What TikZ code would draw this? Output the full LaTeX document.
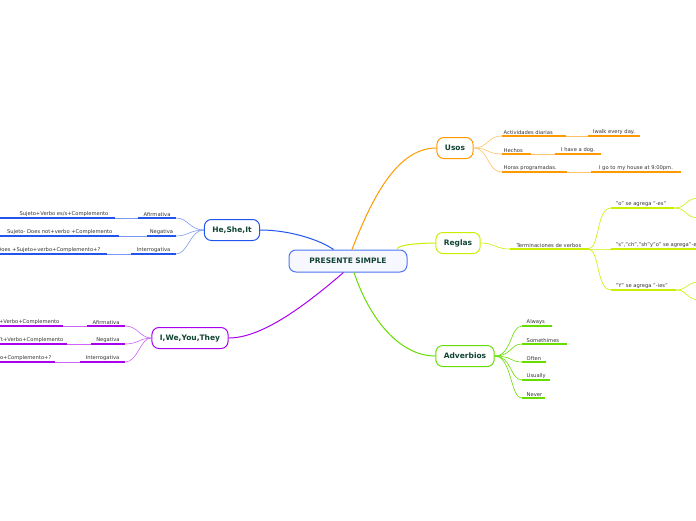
\documentclass[tikz,border=0pt]{standalone}
\usepackage{fontspec}
\setmainfont{DejaVu Sans}
\usetikzlibrary{calc}
\definecolor{cor}{HTML}{FF9900}
\definecolor{cyl}{HTML}{CCEE00}
\definecolor{cgr}{HTML}{66DD00}
\definecolor{cbl}{HTML}{2255EE}
\definecolor{cpu}{HTML}{AA00EE}
\definecolor{ctx}{HTML}{114433}
\tikzset{
 main/.style={draw=#1,line width=1pt,rounded corners=7pt,fill=white,minimum height=21pt,font=\bfseries\fontsize{7.5}{9}\selectfont,text=ctx,inner xsep=8pt},
 lf/.style={font=\fontsize{5.2}{6}\selectfont,text=black!80,inner sep=1.5pt},
 ul/.style={draw=#1,line width=1.6pt},
 cn/.style={draw=#1,line width=0.6pt},
 bc/.style={draw=#1,line width=1pt}
}
\begin{document}
\begin{tikzpicture}[x=1pt,y=-1pt]
\useasboundingbox (0,0) rectangle (696,520);
\clip (0,0) rectangle (696,520);
% center and main nodes
\node[main=cbl!80,fill=blue!3,minimum width=118pt,minimum height=22pt] (c) at (348,261) {PRESENTE SIMPLE};
\node[main=cor] (us) at (455,148) {Usos};
\node[main=cyl] (re) at (458,243) {Reglas};
\node[main=cgr] (ad) at (465,356) {Adverbios};
\node[main=cbl] (he) at (232,230) {He,She,It};
\node[main=cpu] (iw) at (190,338) {I,We,You,They};
\draw[bc=cor] ($(c.north)+(4,0)$) .. controls (375,190) and (400,148) .. (us.west);
\draw[bc=cyl] ($(c.north east)+(-10,0)$) .. controls (395,245) and (420,243) .. (re.west);
\draw[bc=cgr] ($(c.south)+(6,0)$) .. controls (370,320) and (400,356) .. (ad.west);
\draw[bc=cbl] ($(c.north west)+(45,0)$) .. controls (320,240) and (290,230) .. (he.east);
\draw[bc=cpu] ($(c.south west)+(55,0)$) .. controls (300,310) and (260,338) .. (iw.east);
% Usos
\foreach \a/\b/\y/\t/\n in {502/566/136/Actividades diarias/u1,502/531/154/Hechos/u2,502/567/172/Horas programadas./u3}{
 \coordinate (\n s) at (\a,\y); \coordinate (\n e) at (\b,\y);
 \draw[ul=cor] (\n s)--(\n e);
 \node[lf,anchor=south west] (\n) at (\n s) {\t};
 \draw[cn=cor!60] (us.east) .. controls ($(us.east)+(15,0)$) and ($(\n s)+(-15,0)$) .. (\n s);}
\foreach \a/\b/\y/\t/\n/\p in {588/640/136/Iwalk every day./v1/u1,555/601/154/I have a dog./v2/u2,591/681/172/I go to my house at 9:00pm./v3/u3}{
 \coordinate (\n s) at (\a,\y); \coordinate (\n e) at (\b,\y);
 \draw[ul=cor] (\n s)--(\n e);
 \node[lf,anchor=south] (\n) at ($(\n s)!.5!(\n e)$) {\t};
 \draw[cn=cor!60] (\p e)--(\n s);}
% Reglas
\coordinate (ts) at (510,249); \coordinate (te) at (588,249);
\draw[ul=cyl] (ts)--(te);
\node[lf,anchor=south] (t) at ($(ts)!.5!(te)$) {Terminaciones de verbos};
\draw[cn=cyl] (re.east) .. controls (495,243) and (495,249) .. (ts);
\foreach \b/\y/\t/\n in {674/208/{"o" se agrega "-es"}/r1,696/249/{"s","ch","sh"y"o" se agrega"-es"}/r2,676/290/{"Y" se agrega "-ies"}/r3}{
 \coordinate (\n s) at (611,\y); \coordinate (\n e) at (\b,\y);
 \draw[ul=cyl] (\n s)--(\n e);
 \node[lf,anchor=south west] (\n) at ($(\n s)+(3,0)$) {\t};
 \draw[cn=cyl] (te) .. controls (600,249) and (596,\y) .. (\n s);}
\coordinate (q1) at (700,198); \coordinate (q2) at (700,218);
\coordinate (q3) at (700,282); \coordinate (q4) at (700,300);
\draw[cn=cyl] (r1e) .. controls (688,208) and (684,198) .. (q1);
\draw[cn=cyl] (r1e) .. controls (688,208) and (684,218) .. (q2);
\draw[cn=cyl] (r3e) .. controls (688,290) and (686,282) .. (q3);
\draw[cn=cyl] (r3e) .. controls (688,290) and (686,300) .. (q4);
% Adverbios
\foreach \b/\y/\t/\n in {552/326/Always/a1,567/344/Somethimes/a2,546/362/Often/a3,550/380/Usually/a4,545/398/Never/a5}{
 \coordinate (\n s) at (522,\y); \coordinate (\n e) at (\b,\y);
 \draw[ul=cgr] (\n s)--(\n e);
 \node[lf,anchor=south west] (\n) at ($(\n s)+(3,0)$) {\t};
 \draw[cn=cgr] (ad.east) .. controls (512,356) and (510,\y) .. (\n s);}
% He She It
\foreach \a/\y/\t/\n in {138/218/Afirmativa/h1,147/236/Negativa/h2,131/254/Interrogativa/h3}{
 \coordinate (\n s) at (\a,\y); \coordinate (\n e) at (176,\y);
 \draw[ul=cbl] (\n s)--(\n e);
 \node[lf,anchor=south] (\n) at ($(\n s)!.5!(\n e)$) {\t};
 \draw[cn=cbl!60] (he.west) .. controls (190,230) and (188,\y) .. (\n e);}
\foreach \b/\y/\t/\n/\p in {115/218/{Sujeto+Verbo es/s+Complemento}/k1/h1,119/236/{Sujeto- Does not+verbo +Complemento}/k2/h2,107/254/{Does +Sujeto+verbo+Complemento+?}/k3/h3}{
 \coordinate (\n s) at (-5,\y); \coordinate (\n e) at (\b,\y);
 \draw[ul=cbl] (\n s)--(\n e);
 \node[lf,anchor=south east] (\n) at ($(\n e)+(-5,0)$) {\t};
 \draw[cn=cbl!60] (\n e)--(\p s);}
% I We You They
\foreach \a/\y/\t/\n in {87/326/Afirmativa/i1,91/344/Negativa/i2,80/362/Interrogativa/i3}{
 \coordinate (\n s) at (\a,\y); \coordinate (\n e) at (125,\y);
 \draw[ul=cpu] (\n s)--(\n e);
 \node[lf,anchor=south] (\n) at ($(\n s)!.5!(\n e)$) {\t};
 \draw[cn=cpu!60] (iw.west) .. controls (140,338) and (138,\y) .. (\n e);}
\foreach \b/\y/\t/\n/\p in {63/326/{Sujeto+Verbo+Complemento}/j1/i1,67/344/{Sujeto+don't+Verbo+Complemento}/j2/i2,55/362/{Do+Sujeto+Verbo+Complemento+?}/j3/i3}{
 \coordinate (\n s) at (-5,\y); \coordinate (\n e) at (\b,\y);
 \draw[ul=cpu] (\n s)--(\n e);
 \node[lf,anchor=south east] (\n) at ($(\n e)+(-2,0)$) {\t};
 \draw[cn=cpu!60] (\n e)--(\p s);}
\end{tikzpicture}
\end{document}
